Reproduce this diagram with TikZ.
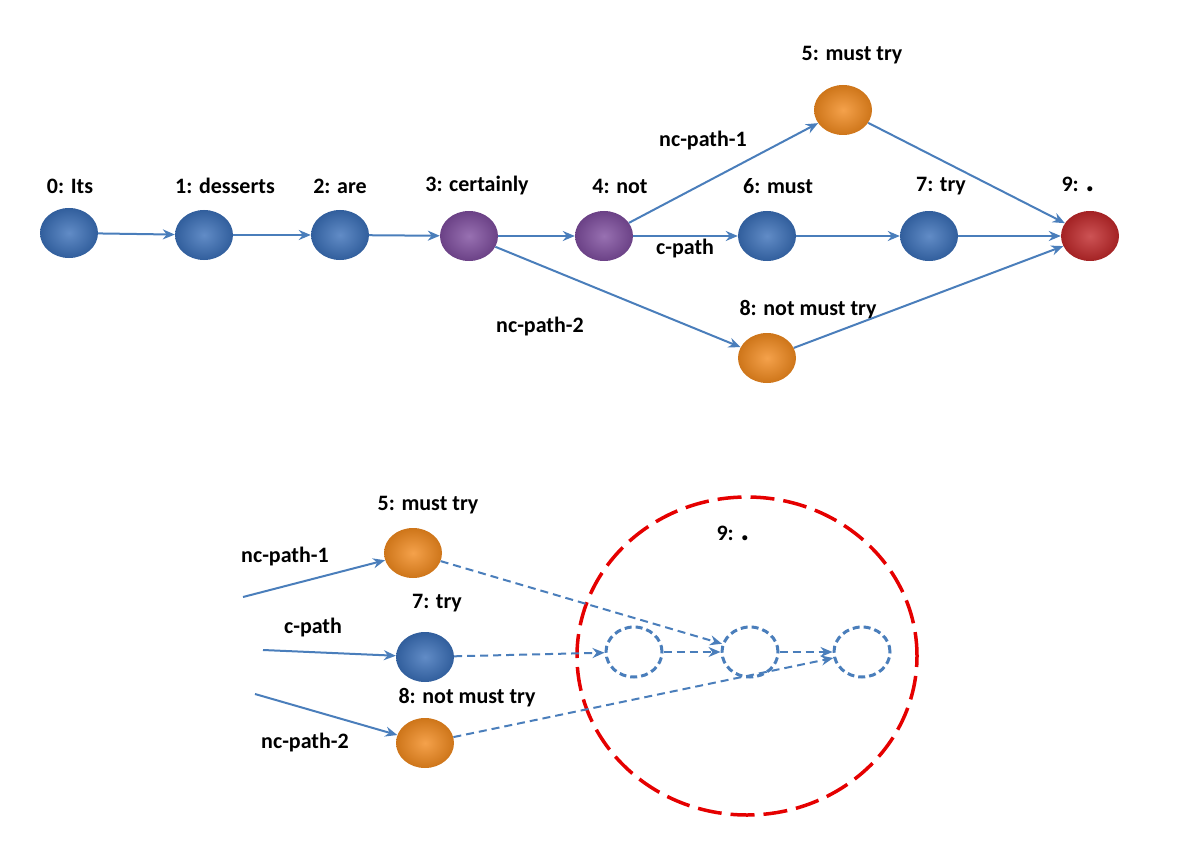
\documentclass[tikz,border=0pt]{standalone}
\usepackage{fontspec}
\setmainfont{Carlito}
\usetikzlibrary{shapes.geometric,arrows.meta}
\definecolor{nblue}{HTML}{3A6FB8}
\definecolor{norange}{HTML}{F28A1E}
\definecolor{npurple}{HTML}{7E4D9E}
\definecolor{nred}{HTML}{C0282A}
\definecolor{lblue}{HTML}{4A7EBB}
\begin{document}
\begin{tikzpicture}[x=1pt,y=-1pt,
 nd/.style={ellipse,minimum width=58pt,minimum height=50pt,inner sep=0pt,draw=none,shading=radial,outer color=#1!85!black,inner color=#1!80!white},
 lb/.style={font=\fontsize{22}{25}\selectfont\bfseries,inner sep=1pt},
 ar/.style={draw=lblue,line width=2pt,-{Stealth[length=12pt,width=10pt]}},
 da/.style={ar,dash pattern=on 8pt off 5pt},
 sc/.style={ellipse,minimum width=56pt,minimum height=50pt,draw=lblue,line width=3pt,dash pattern=on 7pt off 4pt}]
\useasboundingbox (0,0) rectangle (1190,842);
% top graph
\node[nd=nblue] (n0) at (69,233) {};
\node[nd=nblue] (n1) at (204,235) {};
\node[nd=nblue] (n2) at (340,235) {};
\node[nd=npurple] (n3) at (469,236) {};
\node[nd=npurple] (n4) at (604,236) {};
\node[nd=norange] (n5) at (843,110) {};
\node[nd=nblue] (n6) at (767,236) {};
\node[nd=nblue] (n7) at (929,236) {};
\node[nd=nred] (n9) at (1090,236) {};
\node[nd=norange] (n8) at (767,358) {};
\node[lb] (t0) at (70,186) {0: Its};
\node[lb] (t1) at (225,186) {1: desserts};
\node[lb] (t2) at (340,186) {2: are};
\node[lb] (t3) at (477,186) {3: certainly};
\node[lb] (t4) at (620,186) {4: not};
\node[lb] (t5) at (852,55) {5: must try};
\node[lb] (t6) at (778,186) {6: must};
\node[lb] (t7) at (941,186) {7: try};
\node[lb] (t9) at (1078,184) {9: \fontsize{34}{34}\selectfont.};
\node[lb] (t8) at (808,310) {8: not must try};
\draw[ar] (n0) -- (n1);
\draw[ar] (n1) -- (n2);
\draw[ar] (n2) -- (n3);
\draw[ar] (n3) -- (n4);
\draw[ar] (n4) -- (n5);
\draw[ar] (n4) -- (n6);
\draw[ar] (n6) -- (n7);
\draw[ar] (n7) -- (n9);
\draw[ar] (n5) -- (n9);
\draw[ar] (n3) -- (n8);
\draw[ar] (n8) -- (n9);
\node[lb] (e1) at (703,141) {nc-path-1};
\node[lb] (e2) at (685,249) {c-path};
\node[lb] (e3) at (540,327) {nc-path-2};
% bottom
\node[nd=norange] (b5) at (413,553) {};
\node[nd=nblue] (b7) at (425,657) {};
\node[nd=norange] (b8) at (425,743) {};
\node[lb] (s5) at (428,505) {5: must try};
\node[lb] (s7) at (437,603) {7: try};
\node[lb] (s8) at (467,698) {8: not must try};
\coordinate (f1) at (243,597);
\coordinate (f2) at (263,650);
\coordinate (f3) at (255,694);
\draw[ar] (f1) -- (b5);
\draw[ar] (f2) -- (b7);
\draw[ar] (f3) -- (b8);
\node[lb] (g1) at (285,557) {nc-path-1};
\node[lb] (g2) at (313,628) {c-path};
\node[lb] (g3) at (305,743) {nc-path-2};
\node[ellipse,draw=red!90!black,line width=3.5pt,dash pattern=on 24pt off 9pt,minimum width=340pt,minimum height=318pt] (big) at (747,656) {};
\node[lb] (s9) at (733,533) {9: \fontsize{34}{34}\selectfont.};
\node[sc] (c1) at (634,652) {};
\node[sc] (c2) at (750,652) {};
\node[sc] (c3) at (862,652) {};
\draw[da] (b5) -- (c2);
\draw[da] (b7) -- (c1);
\draw[da] (b8) -- (c3);
\draw[da] (c1) -- (c2);
\draw[da] (c2) -- (c3);
\end{tikzpicture}
\end{document}
